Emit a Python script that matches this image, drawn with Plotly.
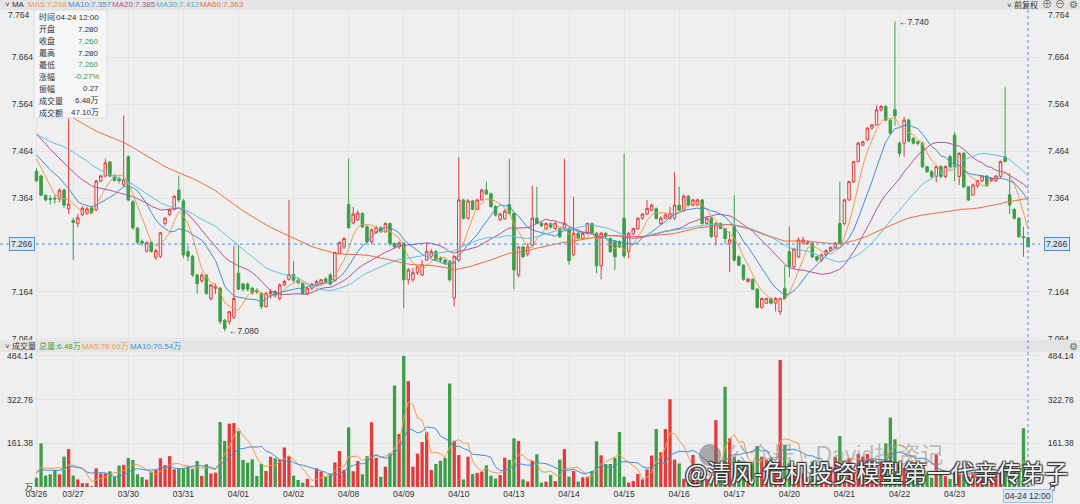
import plotly.graph_objects as go
import pandas as pd

# ---------------- data (2-hour bars, 03/26 .. 04-24 12:00) ----------------
opens = [
 7.421,7.411,7.370,7.363,7.364,7.362,7.381,7.341,7.316,7.310,
 7.329,7.332,7.343,7.339,7.400,7.411,7.441,7.411,7.405,7.392,
 7.452,7.356,7.300,7.272,7.251,7.270,7.238,7.240,7.310,7.329,
 7.340,7.381,7.358,7.250,7.240,7.200,7.188,7.200,7.150,7.172,
 7.172,7.104,7.101,7.110,7.204,7.181,7.181,7.172,7.168,7.161,
 7.133,7.161,7.165,7.150,7.179,7.191,7.201,7.189,7.182,7.161,
 7.172,7.178,7.182,7.192,7.200,7.189,7.246,7.260,7.350,7.311,
 7.318,7.331,7.303,7.271,7.290,7.301,7.292,7.310,7.267,7.260,
 7.268,7.190,7.190,7.205,7.200,7.232,7.240,7.250,7.236,7.232,
 7.230,7.151,7.232,7.360,7.321,7.358,7.340,7.360,7.381,7.373,
 7.346,7.318,7.320,7.350,7.331,7.200,7.260,7.245,7.264,7.321,
 7.310,7.299,7.310,7.299,7.299,7.299,7.299,7.243,7.289,7.278,
 7.289,7.310,7.289,7.220,7.289,7.278,7.271,7.271,7.321,7.250,
 7.288,7.299,7.321,7.330,7.338,7.341,7.310,7.321,7.321,7.321,
 7.349,7.338,7.368,7.349,7.349,7.360,7.310,7.321,7.282,7.310,
 7.299,7.268,7.303,7.239,7.221,7.186,7.191,7.170,7.131,7.140,
 7.150,7.140,7.122,7.172,7.250,7.218,7.239,7.268,7.268,7.268,
 7.239,7.232,7.243,7.252,7.259,7.310,7.310,7.360,7.399,7.442,
 7.477,7.488,7.513,7.520,7.552,7.559,7.530,7.552,7.481,7.481,
 7.530,7.491,7.484,7.481,7.431,7.420,7.410,7.431,7.410,7.452,
 7.498,7.410,7.459,7.388,7.371,7.390,7.401,7.411,7.401,7.401,
 7.410,7.452,7.371,7.340,7.321,7.282,7.280]
highs = [
 7.428,7.414,7.372,7.370,7.372,7.385,7.384,7.536,7.322,7.330,
 7.347,7.345,7.346,7.403,7.414,7.448,7.443,7.415,7.410,7.540,
 7.455,7.360,7.302,7.276,7.272,7.272,7.256,7.292,7.323,7.342,
 7.370,7.412,7.362,7.262,7.243,7.203,7.205,7.202,7.181,7.182,
 7.174,7.106,7.124,7.262,7.262,7.184,7.184,7.175,7.172,7.164,
 7.164,7.170,7.168,7.182,7.190,7.360,7.230,7.195,7.185,7.176,
 7.184,7.190,7.192,7.195,7.204,7.250,7.272,7.280,7.448,7.345,
 7.338,7.334,7.306,7.300,7.305,7.304,7.312,7.312,7.270,7.272,
 7.270,7.215,7.215,7.220,7.232,7.268,7.255,7.253,7.240,7.235,
 7.232,7.242,7.451,7.362,7.362,7.360,7.362,7.384,7.399,7.376,
 7.349,7.333,7.340,7.448,7.334,7.262,7.262,7.268,7.390,7.388,
 7.314,7.312,7.312,7.313,7.301,7.448,7.302,7.367,7.292,7.292,
 7.312,7.312,7.292,7.292,7.291,7.280,7.274,7.274,7.459,7.292,
 7.301,7.323,7.332,7.360,7.352,7.344,7.325,7.332,7.345,7.420,
 7.388,7.372,7.371,7.362,7.363,7.362,7.324,7.324,7.312,7.312,
 7.301,7.293,7.370,7.242,7.223,7.195,7.193,7.172,7.152,7.152,
 7.152,7.153,7.152,7.221,7.303,7.258,7.280,7.282,7.274,7.270,
 7.241,7.246,7.255,7.261,7.270,7.399,7.362,7.401,7.443,7.484,
 7.486,7.515,7.522,7.562,7.562,7.562,7.533,7.740,7.484,7.537,
 7.533,7.494,7.486,7.484,7.433,7.424,7.434,7.434,7.434,7.456,
 7.505,7.462,7.462,7.390,7.395,7.403,7.413,7.413,7.408,7.413,
 7.444,7.600,7.417,7.342,7.323,7.303,7.280]
lows = [
 7.398,7.368,7.357,7.350,7.352,7.355,7.343,7.330,7.232,7.302,
 7.325,7.328,7.330,7.336,7.398,7.409,7.408,7.400,7.395,7.388,
 7.357,7.296,7.265,7.262,7.248,7.248,7.232,7.236,7.305,7.325,
 7.338,7.355,7.236,7.230,7.196,7.160,7.183,7.158,7.146,7.160,
 7.095,7.080,7.095,7.106,7.168,7.165,7.166,7.158,7.160,7.128,
 7.130,7.150,7.152,7.146,7.176,7.188,7.185,7.180,7.158,7.158,
 7.168,7.175,7.180,7.183,7.178,7.186,7.244,7.255,7.298,7.308,
 7.315,7.300,7.268,7.266,7.288,7.290,7.290,7.262,7.256,7.255,
 7.129,7.180,7.186,7.200,7.198,7.230,7.237,7.230,7.228,7.222,
 7.186,7.133,7.228,7.318,7.318,7.338,7.338,7.358,7.370,7.343,
 7.325,7.315,7.318,7.328,7.170,7.195,7.236,7.240,7.260,7.308,
 7.302,7.296,7.299,7.296,7.279,7.296,7.222,7.240,7.276,7.275,
 7.286,7.286,7.204,7.191,7.280,7.247,7.211,7.258,7.236,7.236,
 7.286,7.296,7.318,7.328,7.336,7.318,7.306,7.319,7.318,7.318,
 7.336,7.335,7.346,7.346,7.347,7.306,7.306,7.279,7.263,7.298,
 7.267,7.207,7.228,7.219,7.188,7.184,7.168,7.128,7.128,7.138,
 7.138,7.122,7.115,7.148,7.196,7.214,7.236,7.265,7.264,7.236,
 7.228,7.228,7.240,7.250,7.257,7.265,7.306,7.358,7.396,7.440,
 7.474,7.486,7.510,7.518,7.548,7.528,7.500,7.518,7.452,7.452,
 7.482,7.478,7.476,7.428,7.418,7.405,7.398,7.406,7.406,7.428,
 7.400,7.392,7.385,7.358,7.368,7.386,7.398,7.388,7.398,7.398,
 7.407,7.440,7.330,7.318,7.279,7.239,7.260]
closes = [
 7.401,7.370,7.360,7.361,7.362,7.381,7.349,7.351,7.312,7.322,
 7.342,7.341,7.333,7.400,7.411,7.439,7.411,7.401,7.401,7.403,
 7.360,7.301,7.270,7.268,7.269,7.250,7.252,7.290,7.321,7.339,
 7.368,7.360,7.243,7.240,7.200,7.182,7.200,7.161,7.179,7.176,
 7.101,7.086,7.122,7.150,7.170,7.170,7.170,7.162,7.164,7.133,
 7.161,7.165,7.156,7.179,7.186,7.201,7.189,7.184,7.161,7.172,
 7.180,7.186,7.190,7.186,7.181,7.248,7.269,7.278,7.301,7.330,
 7.332,7.303,7.271,7.296,7.301,7.292,7.310,7.267,7.260,7.268,
 7.190,7.211,7.205,7.218,7.222,7.250,7.250,7.232,7.232,7.226,
 7.190,7.240,7.360,7.321,7.358,7.340,7.360,7.381,7.373,7.346,
 7.328,7.330,7.336,7.331,7.211,7.260,7.239,7.260,7.321,7.310,
 7.305,7.310,7.302,7.310,7.282,7.310,7.231,7.289,7.278,7.289,
 7.310,7.289,7.220,7.289,7.282,7.250,7.239,7.260,7.241,7.289,
 7.299,7.321,7.330,7.342,7.349,7.321,7.321,7.328,7.331,7.349,
 7.338,7.368,7.349,7.360,7.360,7.310,7.321,7.282,7.310,7.299,
 7.278,7.275,7.232,7.221,7.191,7.191,7.170,7.131,7.150,7.150,
 7.140,7.150,7.150,7.150,7.218,7.255,7.275,7.275,7.269,7.239,
 7.232,7.243,7.252,7.259,7.268,7.268,7.360,7.399,7.442,7.481,
 7.484,7.513,7.520,7.552,7.559,7.530,7.502,7.539,7.459,7.530,
 7.486,7.481,7.481,7.431,7.420,7.410,7.431,7.410,7.431,7.431,
 7.431,7.459,7.388,7.360,7.392,7.401,7.411,7.390,7.406,7.411,
 7.442,7.442,7.349,7.321,7.282,7.280,7.260]
volumes = [  # 万
 34,161,42,47,63,47,112,140,42,28,
 14,14,4,69,50,50,58,38,79,81,
 107,100,47,37,27,57,63,106,81,114,
 65,69,69,75,66,96,41,84,50,53,
 240,170,234,236,206,100,90,102,41,85,
 59,112,106,102,146,114,42,26,16,30,
 4,69,57,37,50,91,133,63,220,58,
 96,47,114,239,108,38,75,124,375,196,
 484.14,391,75,123,166,202,63,85,97,108,
 382,170,118,28,112,48,52,57,80,42,
 31,44,108,100,180,170,28,20,96,121,
 16,20,44,22,101,140,38,59,20,36,
 36,59,169,117,85,85,107,203,38,16,
 22,48,28,65,116,214,128,214,324,101,
 87,30,20,118,20,40,30,25,247,60,
 370,180,112,100,80,60,90,151,112,100,
 106,60,469,155,87,63,38,50,30,94,
 26,40,50,75,110,188,55,106,55,122,
 112,122,100,60,94,161,256,176,90,70,
 60,45,40,75,50,35,118,45,40,30,
 60,50,45,40,55,45,50,50,45,55,
 75,87,60,55,55,217,6.48]
# closes / volumes before the window (only feed the moving averages)
prior_closes = [
 7.710,7.705,7.700,7.702,7.695,7.690,7.688,7.684,7.680,7.676,
 7.672,7.670,7.666,7.664,7.660,7.656,7.652,7.650,7.646,7.642,
 7.640,7.636,7.632,7.630,7.626,7.622,7.620,7.616,7.612,7.610,
 7.540,7.520,7.500,7.480,7.470,7.480,7.500,7.500,7.510,7.500,
 7.560,7.580,7.590,7.570,7.560,7.550,7.540,7.520,7.490,7.480,
 7.480,7.470,7.460,7.450,7.460,7.470,7.460,7.450,7.459]
prior_volumes = [50,60,45,70,55,40,65,50,60]

tick_idx = [0,8,20,32,44,56,68,80,92,104,116,128,140,152,164,176,188,200]
tick_labels = ['03/26','03/27','03/30','03/31','04/01','04/02','04/08','04/09','04/10',
               '04/13','04/14','04/15','04/16','04/17','04/20','04/21','04/22','04/23']
price_ticks = [7.064,7.164,7.364,7.464,7.564,7.664]
vol_ticks = [0,161.38,322.76,484.14]
vol_tick_text = ['万','161.38','322.76','484.14']

N = len(closes)
idx = list(range(N))

hc = pd.Series(prior_closes + closes)
def ma(s, n, off):
    return s.rolling(n).mean().iloc[off:].tolist()
ma_defs = [(5,'#f39a4c'),(10,'#3d8fd9'),(20,'#b4529e'),(30,'#5cc2e4'),(60,'#ef6c3e')]
hv = pd.Series(prior_volumes + volumes)
vma5 = ma(hv,5,len(prior_volumes))
vma10 = ma(hv,10,len(prior_volumes))

RED = '#e23b3b'
GREEN = '#3d9e47'
BG = '#efefef'
FONT = 'Liberation Sans, Noto Sans CJK SC, sans-serif'

fig = go.Figure()
for n,col in ma_defs:
    fig.add_trace(go.Scatter(x=idx, y=ma(hc,n,len(prior_closes)), mode='lines',
                             line=dict(color=col,width=1), hoverinfo='skip',
                             xaxis='x', yaxis='y'))
fig.add_trace(go.Candlestick(x=idx, open=opens, high=highs, low=lows, close=closes,
    increasing=dict(line=dict(color=RED,width=1), fillcolor=BG),
    decreasing=dict(line=dict(color=GREEN,width=1), fillcolor=GREEN),
    whiskerwidth=0, xaxis='x', yaxis='y', hoverinfo='skip'))
vcol = [RED if c >= o else GREEN for o,c in zip(opens,closes)]
fig.add_trace(go.Bar(x=idx, y=volumes, marker=dict(color=vcol, line=dict(width=0)),
                     width=0.72, xaxis='x2', yaxis='y2', hoverinfo='skip'))
fig.add_trace(go.Scatter(x=idx, y=vma5, mode='lines', line=dict(color='#f39a4c',width=1),
                         xaxis='x2', yaxis='y2', hoverinfo='skip'))
fig.add_trace(go.Scatter(x=idx, y=vma10, mode='lines', line=dict(color='#3d8fd9',width=1),
                         xaxis='x2', yaxis='y2', hoverinfo='skip'))
# right-hand axes twins
fig.add_trace(go.Scatter(x=[0], y=[7.3], mode='markers', marker=dict(opacity=0),
                         xaxis='x', yaxis='y3', hoverinfo='skip'))
fig.add_trace(go.Scatter(x=[0], y=[10], mode='markers', marker=dict(opacity=0),
                         xaxis='x2', yaxis='y4', hoverinfo='skip'))

L, R, T, B = 34, 1040, 10, 487
def px(x): return (x - L) / (R - L)
def py(y): return (B - y) / (B - T)

XR = [-0.54, 218.6]
PR = [7.0617, 7.7646]
VR = [0, 498.5]
pdom = [py(340), 1]
vdom = [0, py(352)]
tf = dict(size=8.5, color='#333', family=FONT)

fig.update_layout(
    width=1080, height=504, margin=dict(l=L, r=1080-R, t=T, b=504-B, autoexpand=False),
    paper_bgcolor=BG, plot_bgcolor=BG, showlegend=False, hovermode=False,
    font=dict(family=FONT, size=8.5, color='#333'),
    boxgap=0.22,
    xaxis=dict(domain=[0,1], range=XR, anchor='y', showticklabels=False, automargin=False,
               tickvals=tick_idx, showgrid=True, gridcolor='#e3e3e3', gridwidth=1,
               zeroline=False, rangeslider=dict(visible=False), ticks=''),
    xaxis2=dict(domain=[0,1], range=XR, anchor='y2', tickvals=tick_idx, ticktext=tick_labels,
                automargin=False, showgrid=True, gridcolor='#e3e3e3', zeroline=False, ticks='',
                tickfont=tf),
    yaxis=dict(domain=pdom, range=PR, tickvals=price_ticks, ticktext=[f'{v:.3f}' for v in price_ticks],
               automargin=False, side='left', showgrid=True, gridcolor='#e3e3e3', zeroline=False,
               ticks='', tickfont=tf),
    yaxis3=dict(range=PR, overlaying='y', side='right', tickvals=price_ticks, automargin=False,
                ticktext=[f'{v:.3f}' for v in price_ticks], showgrid=False, zeroline=False,
                ticks='outside', ticklen=5, tickcolor=BG, tickfont=tf),
    yaxis2=dict(domain=vdom, range=VR, tickvals=vol_ticks, ticktext=vol_tick_text, side='left',
                automargin=False, showgrid=True, gridcolor='#e3e3e3', zeroline=False, ticks='',
                tickfont=tf),
    yaxis4=dict(range=VR, overlaying='y2', side='right', tickvals=vol_ticks, ticktext=vol_tick_text,
                automargin=False, showgrid=False, zeroline=False, ticks='outside', ticklen=5,
                tickcolor=BG, tickfont=tf),
    bargap=0.3,
)

shapes = []
# header strip and volume separator strip
shapes.append(dict(type='rect', xref='paper', yref='paper', x0=px(0), x1=px(1080), y0=1, y1=py(0),
                   fillcolor='#e4e4e4', line=dict(width=0), layer='above'))
shapes.append(dict(type='rect', xref='paper', yref='paper', x0=px(0), x1=px(1080), y0=py(352), y1=py(340),
                   fillcolor='#e4e4e4', line=dict(width=0), layer='above'))
# tooltip panel
shapes.append(dict(type='rect', xref='paper', yref='paper', x0=px(34), x1=px(107), y0=py(118), y1=py(10),
                   fillcolor='rgba(246,246,246,0.92)', line=dict(color='#dcdcdc', width=1), layer='above'))
# crosshair
shapes.append(dict(type='line', xref='x', yref='paper', x0=N-1, x1=N-1, y0=0, y1=1,
                   line=dict(color='#4a90d9', width=1, dash='dot'), layer='above'))
shapes.append(dict(type='line', xref='paper', yref='y', x0=px(0), x1=1, y0=7.266, y1=7.266,
                   line=dict(color='#4a90d9', width=1, dash='dot'), layer='above'))
# watermark logo
shapes.append(dict(type='circle', xref='paper', yref='paper', x0=px(699), x1=px(721), y0=py(466), y1=py(444),
                   fillcolor='rgba(110,110,110,0.55)', line=dict(width=0), layer='above'))
fig.update_layout(shapes=shapes)

ann = []
def text(x, y, s, color='#333', size=8, anchor='left', **kw):
    d = dict(xref='paper', yref='paper', x=px(x), y=py(y), text=s, showarrow=False,
             xanchor=anchor, yanchor='middle', font=dict(size=size, color=color, family=FONT))
    d.update(kw)
    ann.append(d)

# header
text(3, 5, '˅ MA', '#333')
text(26, 5, 'MA5:7.298', '#f39a4c')
text(66, 5, 'MA10:7.357', '#3d8fd9')
text(110, 5, 'MA20:7.385', '#b4529e')
text(154, 5, 'MA30:7.412', '#4ab6dc')
text(198, 5, 'MA60:7.363', '#ef6c3e')
text(1005, 5, '˅ 前复权', '#333')
text(1047, 5, '⊕', '#666', size=10, anchor='center')
text(1060, 5, '⊖', '#666', size=10, anchor='center')
text(1073, 5, '⚙', '#666', size=10, anchor='center')
text(1073, 346, '⚙', '#666', size=10, anchor='center')
# top price label (kept inside the panel)
text(32, 15, '7.764', anchor='right', size=8.5)
text(1046, 15, '7.764', anchor='left', size=8.5)
# volume header
text(3, 346, '˅ 成交量', '#333')
text(37, 346, '总量:6.48万', GREEN)
text(80, 346, 'MA5:78.69万', '#f39a4c')
text(128, 346, 'MA10:70.54万', '#3d8fd9')
# tooltip
rows = [('时间','04-24 12:00','#333'),('开盘','7.280','#333'),('收盘','7.260',GREEN),
        ('最高','7.280','#333'),('最低','7.260',GREEN),('涨幅','-0.27%',GREEN),
        ('振幅','0.27','#333'),('成交量','6.48万','#333'),('成交额','47.10万','#333')]
for k,(a,b,c) in enumerate(rows):
    yy = 17.3 + k*11.9
    text(37, yy, a, '#333')
    text(101, yy, b, c, anchor='right')
# extreme labels
ann.append(dict(xref='x', yref='y', x=187, y=7.740, text='←7.740', showarrow=False,
                xanchor='left', yanchor='middle', xshift=2, font=dict(size=8.5, color='#333', family=FONT)))
ann.append(dict(xref='x', yref='y', x=41, y=7.080, text='←7.080', showarrow=False,
                xanchor='left', yanchor='middle', xshift=2, font=dict(size=8.5, color='#333', family=FONT)))
# crosshair labels
box = dict(bgcolor='#d9e7f6', bordercolor='#4a90d9', borderwidth=1, borderpad=1)
ann.append(dict(xref='paper', yref='y', x=px(22), y=7.266, text='7.266', showarrow=False,
                xanchor='center', yanchor='middle', font=dict(size=8.5, color='#333', family=FONT), **box))
ann.append(dict(xref='paper', yref='y', x=px(1057), y=7.266, text='7.266', showarrow=False,
                xanchor='center', yanchor='middle', font=dict(size=8.5, color='#333', family=FONT), **box))
ann.append(dict(xref='x', yref='paper', x=N-1, y=py(496), text='04-24 12:00', showarrow=False,
                xanchor='center', yanchor='middle', font=dict(size=8.5, color='#333', family=FONT),
                bgcolor='#d9e7f6', bordercolor='#9cc0e6', borderwidth=1, borderpad=1))
# watermarks
text(724, 455, '公众号 · David投资记', 'rgba(140,140,140,0.55)', size=23)
ann.append(dict(xref='paper', yref='paper', x=px(683), y=py(472), text='@清风-危机投资模型第一代亲传弟子',
                showarrow=False, xanchor='left', yanchor='middle',
                font=dict(size=23.5, color='rgba(255,255,255,0.95)', family='Noto Sans CJK SC',
                          shadow='1px 1px 1px #333, -1px -1px 1px #333, 1px -1px 1px #333, -1px 1px 1px #333')))
fig.update_layout(annotations=ann)

page_fix = ("document.body.style.margin='0';document.body.style.padding='0';"
            "document.body.style.background='#efefef';document.body.style.overflow='hidden';")
fig.write_html('out.html', post_script=page_fix,
               config={'displayModeBar': False, 'staticPlot': True})
